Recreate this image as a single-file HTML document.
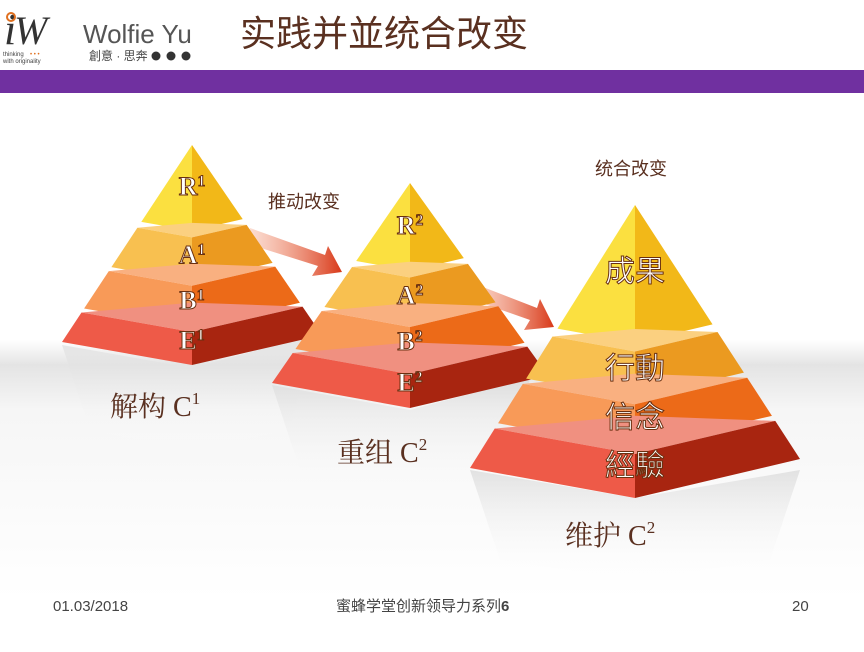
<!DOCTYPE html>
<html><head><meta charset="utf-8"><style>
body{margin:0;width:864px;height:647px;overflow:hidden;background:#fff;font-family:"Liberation Sans","Noto Sans CJK SC",sans-serif}
</style></head><body>
<svg width="864" height="647" viewBox="0 0 864 647" xmlns="http://www.w3.org/2000/svg">
<defs>
<linearGradient id="bg" x1="0" y1="0" x2="0" y2="1">
<stop offset="0" stop-color="#fff"/><stop offset="0.48" stop-color="#fff"/><stop offset="0.53" stop-color="#e4e4e4"/><stop offset="0.62" stop-color="#f6f6f6"/><stop offset="1" stop-color="#fff"/></linearGradient>
<linearGradient id="arr" x1="0" y1="0" x2="1" y2="0"><stop offset="0" stop-color="#f5a080" stop-opacity="0.3"/><stop offset="1" stop-color="#d83818"/></linearGradient>
<linearGradient id="refl" x1="0" y1="0" x2="0" y2="1"><stop offset="0" stop-color="#d8d8d8"/><stop offset="1" stop-color="#fff" stop-opacity="0"/></linearGradient>
</defs>
<rect x="0" y="100" width="864" height="500" fill="url(#bg)"/>
<text x="4" y="44" font-family="Liberation Serif,serif" font-size="44" font-style="italic" fill="#333">i</text>
<circle cx="11" cy="17" r="4" fill="none" stroke="#e07020" stroke-width="2"/>
<text x="14" y="44" font-family="Liberation Serif,serif" font-size="40" font-style="italic" fill="#333">W</text>
<text x="3" y="56" font-size="6" fill="#444">thinking</text><text x="30" y="56" font-size="6" fill="#e07020">• • •</text>
<text x="3" y="63" font-size="6" fill="#444">with originality</text>
<text x="83" y="43" font-size="26" fill="#555">Wolfie Yu</text>
<text x="89" y="60" font-size="12" fill="#444">創意 · 思奔</text>
<circle cx="156" cy="56" r="4.5" fill="#333"/><circle cx="171" cy="56" r="4.5" fill="#333"/><circle cx="186" cy="56" r="4.5" fill="#333"/>
<text x="240" y="46" font-size="36" fill="#5a3020">实践并並统合改变</text>
<rect x="0" y="70" width="864" height="23" fill="#7030a0"/>
<polygon points="62,345 192,368 313,335 290,430 192,450 90,430" fill="url(#refl)" opacity="0.7"/>
<polygon points="272,385 410,410 530,378 510,470 410,490 300,470" fill="url(#refl)" opacity="0.7"/>
<polygon points="470,470 635,498 800,470 770,560 635,580 500,560" fill="url(#refl)" opacity="0.7"/>
<polygon points="250,228 325,255 328,246 342,272 312,276 318,266 245,243" fill="url(#arr)"/>
<polygon points="470,282 537,308 540,299 554,327 524,330 530,320 465,297" fill="url(#arr)"/>
<g id="pyr"></g>
<g id="lab"></g>
<text x="268" y="208" font-size="18" fill="#5a3020">推动改变</text>
<text x="595" y="175" font-size="18" fill="#5a3020">统合改变</text>
<text x="110" y="416" font-size="28" fill="#5a3020" font-family="Liberation Serif,Noto Serif CJK SC,serif">解构 C<tspan font-size="17" dy="-12">1</tspan></text>
<text x="337" y="462" font-size="28" fill="#5a3020" font-family="Liberation Serif,Noto Serif CJK SC,serif">重组 C<tspan font-size="17" dy="-12">2</tspan></text>
<text x="565" y="545" font-size="28" fill="#5a3020" font-family="Liberation Serif,Noto Serif CJK SC,serif">维护 C<tspan font-size="17" dy="-12">2</tspan></text>
<text x="53" y="611" font-size="15" fill="#444">01.03/2018</text>
<text x="336" y="611" font-size="15" fill="#444">蜜蜂学堂创新领导力系列<tspan font-weight="bold">6</tspan></text>
<text x="792" y="611" font-size="15" fill="#444">20</text>
</svg>
<script>
var NS="http://www.w3.org/2000/svg",g=document.getElementById("pyr"),lg=document.getElementById("lab");
var cols=[["#fbe040","#f2b818","#fde890"],["#f8c050","#eb9a20","#fbd080"],["#f89a58","#ec6a18","#f9b080"],["#ee5a48","#a82510","#f09080"]];
function poly(p,f){var e=document.createElementNS(NS,"polygon");e.setAttribute("points",p.map(function(a){return a.join(",")}).join(" "));e.setAttribute("fill",f);g.appendChild(e);}
function txt(x,y,s,sz,sup,serif){var e=document.createElementNS(NS,"text");e.setAttribute("x",x);e.setAttribute("y",y);e.setAttribute("text-anchor","middle");e.setAttribute("font-size",sz);e.setAttribute("font-family",serif?"Liberation Serif,serif":"Liberation Sans,Noto Sans CJK TC,sans-serif");e.setAttribute("font-weight",serif?"bold":"normal");e.setAttribute("fill","#fff");e.setAttribute("stroke","#6a3010");e.setAttribute("stroke-width","1");e.textContent=s;if(sup){var t=document.createElementNS(NS,"tspan");t.setAttribute("font-size",sz*0.6);t.setAttribute("dy",-sz*0.35);t.textContent=sup;e.appendChild(t);}lg.appendChild(e);}
function pyr(cx,ty,w,H,d,br,labels,sz,serif){
 function L(t){return [cx-w*t,ty+H*t]}function R(t){return [cx+w*t,ty+H*t-d*0.3*t]}function F(t){return [cx,ty+H*t+d*t]}function B(t){return [cx,ty+H*t-d*t*0.5]}
 for(var i=0;i<4;i++){var a=br[i][0],b=br[i][1],c=cols[i];
  if(a>0){poly([L(a),B(a),R(a),F(a)],c[2]);}
  poly([L(a),F(a),F(b),L(b)],c[0]);poly([F(a),R(a),R(b),F(b)],c[1]);
  var m=(a+b)/2;txt(cx,ty+H*m+d*m*0.6+sz*0.35,labels[i][0],sz,labels[i][1],serif);}
}
pyr(192,145,130,197,23,[[0,0.39],[0.42,0.62],[0.64,0.83],[0.85,1]],[["R","1"],["A","1"],["B","1"],["E","1"]],26,true);
pyr(410,183,138,200,25,[[0,0.39],[0.42,0.62],[0.64,0.83],[0.85,1]],[["R","2"],["A","2"],["B","2"],["E","2"]],26,true);
pyr(635,205,165,263,30,[[0,0.47],[0.5,0.66],[0.68,0.83],[0.85,1]],[["成果"],["行動"],["信念"],["經驗"]],30,false);
</script>
</body></html>
